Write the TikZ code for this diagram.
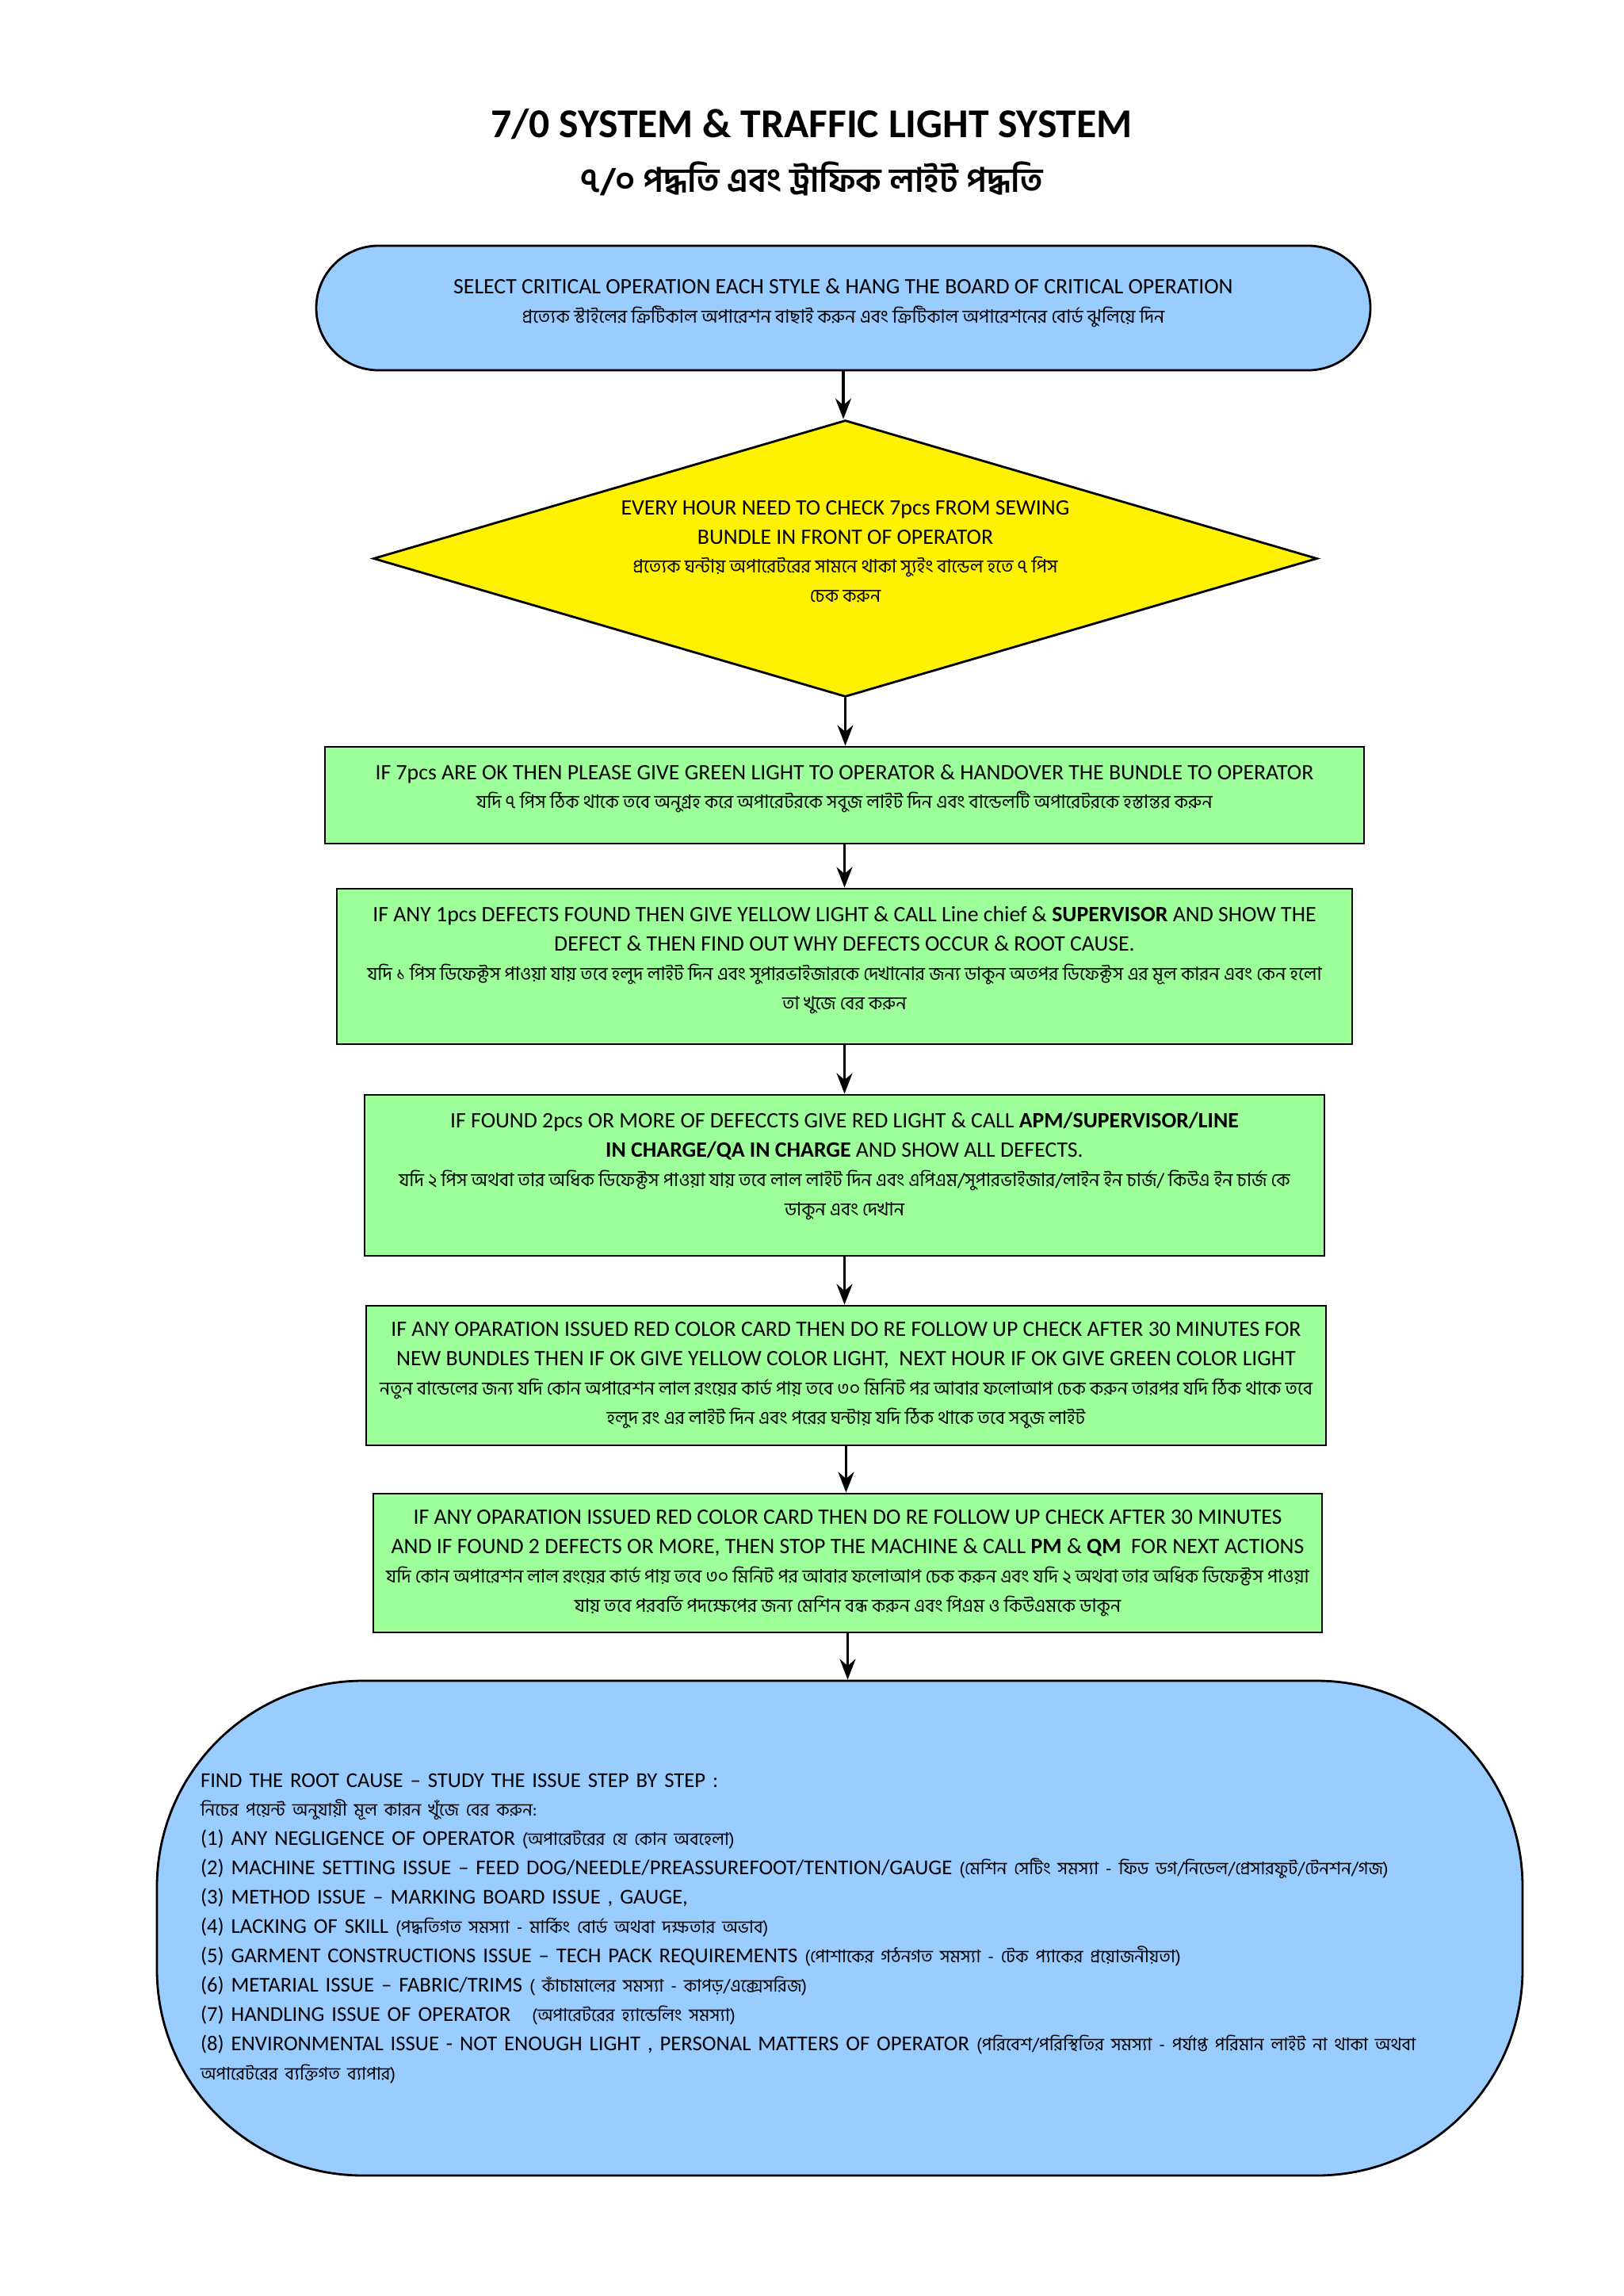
\documentclass[tikz,border=0pt]{standalone}
\usepackage{fontspec}
\setmainfont{Carlito}
\newfontfamily\bnfont[Script=Bengali]{Hind Siliguri}
\usetikzlibrary{shapes.geometric, arrows.meta, positioning}
\def\bnpt{6.6pt}
\newcommand{\bn}{\bnfont\fontsize{\bnpt}{10.5pt}\selectfont}
\definecolor{skyblue}{HTML}{99CCFF}
\definecolor{lightgreen}{HTML}{9CFF99}
\tikzset{
  flowtext/.style={align=center, font=\fontsize{7.9pt}{10.5pt}\selectfont},
  terminal/.style={flowtext, draw=black, line width=0.8pt, fill=skyblue, rounded corners=#1},
  checkbox/.style={flowtext, draw=black, line width=0.8pt, fill=lightgreen, inner sep=0pt},
  flowarrow/.style={-{Stealth[length=2.6mm, width=2mm]}, line width=0.9pt},
}
\begin{document}
\begin{tikzpicture}
    \useasboundingbox (0,0) rectangle (20.48,-28.96);
    % 标题
    \node[font=\fontsize{14.7pt}{17pt}\selectfont\bfseries] (title) at (10.24,-1.57) {7/0 SYSTEM \& TRAFFIC LIGHT SYSTEM};
    \node[font=\bnfont\fontsize{12.1pt}{15pt}\selectfont\bfseries] (subtitle) at (10.24,-2.25) {৭/০ পদ্ধতি এবং ট্রাফিক লাইট পদ্ধতি};
    % 流程框
    \node[terminal=0.785cm, text depth=0.18cm, minimum width=13.30cm, minimum height=1.57cm] (select) at (10.64,-3.885)
        {SELECT CRITICAL OPERATION EACH STYLE \& HANG THE BOARD OF CRITICAL OPERATION\\
         {\bn প্রত্যেক স্টাইলের ক্রিটিকাল অপারেশন বাছাই করুন এবং ক্রিটিকাল অপারেশনের বোর্ড ঝুলিয়ে দিন}};
    \node[diamond, flowtext, draw=black, line width=0.8pt, fill=yellow, aspect=3.4, inner sep=0pt, text depth=0.18cm,
          minimum width=11.91cm, minimum height=3.49cm] (check) at (10.665,-7.045)
        {EVERY HOUR NEED TO CHECK 7pcs FROM SEWING\\
         BUNDLE IN FRONT OF OPERATOR\\
         {\bn প্রত্যেক ঘন্টায় অপারেটরের সামনে থাকা স্যুইং বান্ডেল হতে ৭ পিস}\\
         {\bn চেক করুন}};
    \node[checkbox, text depth=0.22cm, minimum width=13.11cm, minimum height=1.22cm] (green) at (10.655,-10.03)
        {IF 7pcs ARE OK THEN PLEASE GIVE GREEN LIGHT TO OPERATOR \& HANDOVER THE BUNDLE TO OPERATOR\\
         {\bn যদি ৭ পিস ঠিক থাকে তবে অনুগ্রহ করে অপারেটরকে সবুজ লাইট দিন  এবং বান্ডেলটি অপারেটরকে হস্তান্তর করুন}};
    \node[checkbox, text depth=0.22cm, minimum width=12.81cm, minimum height=1.96cm] (yellow) at (10.655,-12.19)
        {IF ANY 1pcs DEFECTS FOUND THEN GIVE YELLOW LIGHT \& CALL Line chief \& \textbf{SUPERVISOR} AND SHOW THE\\
         DEFECT \& THEN FIND OUT WHY DEFECTS OCCUR \& ROOT CAUSE.\\
         {\bn যদি ১ পিস ডিফেক্টস পাওয়া যায় তবে হলুদ লাইট দিন এবং সুপারভাইজারকে দেখানোর জন্য ডাকুন অতপর ডিফেক্টস এর মূল কারন এবং কেন হলো}\\
         {\bn তা খুজে বের করুন}};
    \node[checkbox, text depth=0.29cm, minimum width=12.11cm, minimum height=2.03cm] (red) at (10.655,-14.825)
        {IF FOUND 2pcs OR MORE OF DEFECCTS GIVE RED LIGHT \& CALL \textbf{APM/SUPERVISOR/LINE}\\
         \textbf{IN CHARGE/QA IN CHARGE} AND SHOW ALL DEFECTS.\\
         {\bn যদি ২ পিস অথবা তার অধিক ডিফেক্টস পাওয়া যায় তবে লাল লাইট দিন এবং এপিএম/সুপারভাইজার/লাইন ইন চার্জ/ কিউএ ইন চার্জ কে}\\
         {\bn ডাকুন এবং দেখান}};
    \node[checkbox, minimum width=12.11cm, minimum height=1.76cm] (recheck) at (10.675,-17.35)
        {IF ANY OPARATION ISSUED RED COLOR CARD THEN DO RE FOLLOW UP CHECK AFTER 30 MINUTES FOR\\
         NEW BUNDLES THEN IF OK GIVE YELLOW COLOR LIGHT,\ \ NEXT HOUR IF OK GIVE GREEN COLOR LIGHT\\
         {\bn নতুন বান্ডেলের জন্য যদি কোন অপারেশন লাল রংয়ের কার্ড পায় তবে ৩০ মিনিট পর আবার ফলোআপ চেক করুন তারপর যদি ঠিক থাকে তবে}\\
         {\bn হলুদ রং এর লাইট দিন এবং পরের ঘন্টায় যদি ঠিক থাকে তবে সবুজ লাইট}};
    \node[checkbox, minimum width=11.97cm, minimum height=1.75cm] (stop) at (10.695,-19.715)
        {IF ANY OPARATION ISSUED RED COLOR CARD THEN DO RE FOLLOW UP CHECK AFTER 30 MINUTES\\
         AND IF FOUND 2 DEFECTS OR MORE, THEN STOP THE MACHINE \& CALL \textbf{PM} \& \textbf{QM}\ \ FOR NEXT ACTIONS\\
         {\bn যদি কোন অপারেশন লাল রংয়ের কার্ড পায় তবে ৩০ মিনিট পর আবার ফলোআপ চেক করুন এবং যদি ২ অথবা তার অধিক ডিফেক্টস পাওয়া}\\
         {\bn যায় তবে পরবর্তি পদক্ষেপের জন্য মেশিন বন্ধ করুন এবং পিএম ও কিউএমকে ডাকুন}};
    \node[terminal=2.6cm, align=left, text width=16.13cm, minimum width=17.23cm, minimum height=6.24cm,
          font=\def\bnpt{6.3pt}\fontsize{7.6pt}{10.5pt}\selectfont] (root) at (10.595,-24.32)
        {FIND THE ROOT CAUSE – STUDY THE ISSUE STEP BY STEP :\\
         {\bn নিচের পয়েন্ট অনুযায়ী মূল কারন খুঁজে বের করুন:}\\
         (1) ANY NEGLIGENCE OF OPERATOR {\bn (অপারেটরের যে কোন অবহেলা)}\\
         (2) MACHINE SETTING ISSUE – FEED DOG/NEEDLE/PREASSUREFOOT/TENTION/GAUGE {\bn (মেশিন সেটিং সমস্যা - ফিড ডগ/নিডেল/প্রেসারফুট/টেনশন/গজ)}\\
         (3) METHOD ISSUE – MARKING BOARD ISSUE , GAUGE,\\
         (4) LACKING OF SKILL {\bn (পদ্ধতিগত সমস্যা - মার্কিং বোর্ড অথবা দক্ষতার অভাব)}\\
         (5) GARMENT CONSTRUCTIONS ISSUE – TECH PACK REQUIREMENTS {\bn (পোশাকের গঠনগত সমস্যা - টেক প্যাকের প্রয়োজনীয়তা)}\\
         (6) METARIAL ISSUE – FABRIC/TRIMS {\bn ( কাঁচামালের সমস্যা - কাপড়/এক্সেসরিজ)}\\
         (7) HANDLING ISSUE OF OPERATOR\ \ \ {\bn (অপারেটরের হ্যান্ডেলিং সমস্যা)}\\
         (8) ENVIRONMENTAL ISSUE - NOT ENOUGH LIGHT , PERSONAL MATTERS OF OPERATOR {\bn (পরিবেশ/পরিস্থিতির সমস্যা - পর্যাপ্ত পরিমান লাইট না থাকা অথবা}\\
         {\bn অপারেটরের ব্যক্তিগত ব্যাপার)}};
    % 箭头
    \foreach \a/\b in {select/check, check/green, green/yellow, yellow/red, red/recheck, recheck/stop, stop/root}
        \draw[flowarrow] (\a.south) -- (\a.south |- \b.north);
\end{tikzpicture}
\end{document}
